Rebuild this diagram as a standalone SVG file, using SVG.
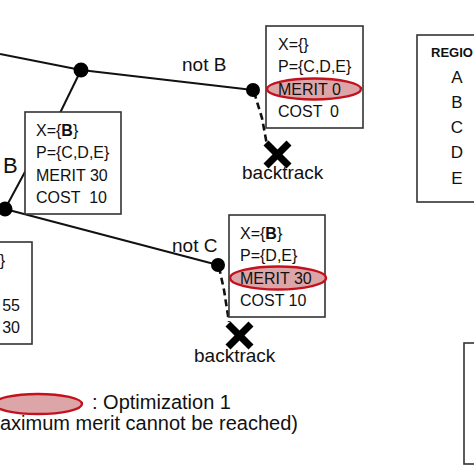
<svg xmlns="http://www.w3.org/2000/svg" width="474" height="474" viewBox="0 0 474 474">
<defs>
<style>
text{font-family:"Liberation Sans",Arial,sans-serif;fill:#111}
.bx{font-size:16px}
.lb{font-size:19px}
.box{fill:#fff;stroke:#333;stroke-width:1.6}
.edge{stroke:#111;stroke-width:2;fill:none}
.dash{stroke:#111;stroke-width:2.6;fill:none;stroke-dasharray:7 4}
.dot{fill:#000}
.opt{fill:#dca6a9;stroke:#c3121e;stroke-width:2.4}
.x{stroke:#000;stroke-width:7;stroke-linecap:butt}
</style>
</defs>
<rect width="474" height="474" fill="#fff"/>
<g id="connectors">
<line class="edge" x1="0" y1="54" x2="81" y2="70"/>
<line class="edge" x1="81" y1="70" x2="253" y2="90"/>
<line class="edge" x1="81" y1="70" x2="60" y2="113"/>
<line class="edge" x1="5" y1="209" x2="26" y2="170"/>
<line class="edge" x1="5" y1="209" x2="218" y2="265"/>
<polyline class="dash" points="254,92 262,118 267,145"/>
<polyline class="dash" points="219,267 224,290 229,322"/>
<circle class="dot" cx="81" cy="70" r="7.5"/>
<circle class="dot" cx="253" cy="90" r="7"/>
<circle class="dot" cx="5" cy="209" r="7.5"/>
<circle class="dot" cx="218" cy="265" r="7"/>
<text class="lb" x="182" y="71" font-size="20">not B</text>
<text class="lb" x="3" y="173" style="font-size:22px">B</text>
<text class="lb" x="172" y="252" font-size="20">not C</text>
</g>
<g id="node-xb">
<rect class="box" x="25" y="112" width="96" height="102"/>
<text class="bx" x="36" y="136">X={<tspan font-weight="bold">B</tspan>}</text>
<text class="bx" x="36" y="158">P={C,D,E}</text>
<text class="bx" x="36" y="181">MERIT 30</text>
<text class="bx" x="36" y="203">COST</text>
<text class="bx" x="107" y="203" text-anchor="end">10</text>
</g>
<g id="node-left">
<rect class="box" x="-70" y="242" width="102" height="102"/>
<text class="bx" x="5" y="266" text-anchor="end">}</text>
<text class="bx" x="20" y="311" text-anchor="end">55</text>
<text class="bx" x="20" y="333" text-anchor="end">30</text>
</g>
<g id="node-empty">
<rect class="box" x="266" y="26" width="97" height="102"/>
<ellipse class="opt" cx="314" cy="89" rx="47" ry="10.5"/>
<text class="bx" x="278" y="50">X={}</text>
<text class="bx" x="278" y="72">P={C,D,E}</text>
<text class="bx" x="278" y="95">MERIT 0</text>
<text class="bx" x="278" y="117">COST</text>
<text class="bx" x="330" y="117">0</text>
</g>
<g id="backtrack-1">
<line class="x" x1="266" y1="143" x2="289" y2="166"/>
<line class="x" x1="289" y1="143" x2="266" y2="166"/>
<text class="lb" x="242" y="179">backtrack</text>
</g>
<g id="node-xb-de">
<rect class="box" x="229" y="215" width="96" height="102"/>
<ellipse class="opt" cx="278" cy="278" rx="48" ry="11.5"/>
<text class="bx" x="240" y="239">X={<tspan font-weight="bold">B</tspan>}</text>
<text class="bx" x="240" y="261">P={D,E}</text>
<text class="bx" x="240" y="284">MERIT 30</text>
<text class="bx" x="240" y="306">COST 10</text>
</g>
<g id="backtrack-2">
<line class="x" x1="228" y1="324" x2="251" y2="347"/>
<line class="x" x1="251" y1="324" x2="228" y2="347"/>
<text class="lb" x="194" y="362">backtrack</text>
</g>
<g id="region">
<rect class="box" x="417" y="35" width="80" height="167"/>
<text x="431" y="57" font-size="13" font-weight="bold">REGIO</text>
<text x="457" y="83" font-size="17" text-anchor="middle">A</text>
<text x="457" y="108" font-size="17" text-anchor="middle">B</text>
<text x="457" y="133" font-size="17" text-anchor="middle">C</text>
<text x="457" y="158" font-size="17" text-anchor="middle">D</text>
<text x="457" y="184" font-size="17" text-anchor="middle">E</text>
</g>
<g id="box-br">
<rect class="box" x="464" y="343" width="40" height="121"/>
</g>
<g id="legend">
<ellipse class="opt" cx="38" cy="404" rx="44" ry="10"/>
<text x="92" y="409" font-size="20">: Optimization 1</text>
<text x="0" y="430" font-size="20">aximum merit cannot be reached)</text>
</g>
</svg>
